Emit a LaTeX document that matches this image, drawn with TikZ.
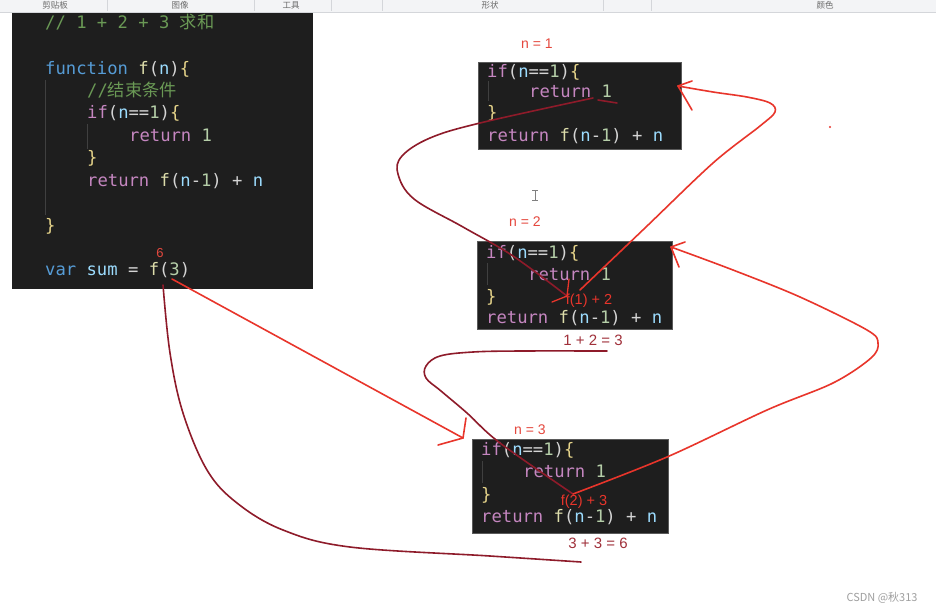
\documentclass[tikz,border=0pt]{standalone}
\usepackage{fontspec}
\setmainfont{Liberation Sans}
\newfontfamily\codefont{DejaVu Sans Mono}
\newfontfamily\cjk{Noto Sans CJK SC}
\definecolor{cbg}{HTML}{1E1E1E}
\definecolor{cborder}{HTML}{5A5A5A}
\definecolor{cguide}{HTML}{404040}
\definecolor{ckwc}{HTML}{569CD6}
\definecolor{cctlc}{HTML}{C586C0}
\definecolor{cfnc}{HTML}{DCDCAA}
\definecolor{cvarc}{HTML}{9CDCFE}
\definecolor{cnumc}{HTML}{B5CEA8}
\definecolor{cpunc}{HTML}{D4D4D4}
\definecolor{ccomc}{HTML}{6A9955}
\definecolor{cbrc}{HTML}{E6D48A}
\definecolor{penred}{HTML}{E8352B}
\definecolor{pendark}{HTML}{8E1B2A}
\definecolor{labred}{HTML}{E5483E}
\definecolor{labdark}{HTML}{A0303A}
\definecolor{toolbg}{HTML}{F3F4F6}
\definecolor{toolline}{HTML}{D4D6DA}
\definecolor{tooltext}{HTML}{6A6A6A}
\newcommand\tkw[1]{\textcolor{ckwc}{#1}}
\newcommand\tctl[1]{\textcolor{cctlc}{#1}}
\newcommand\tfn[1]{\textcolor{cfnc}{#1}}
\newcommand\tvar[1]{\textcolor{cvarc}{#1}}
\newcommand\tnum[1]{\textcolor{cnumc}{#1}}
\newcommand\tcom[1]{\textcolor{ccomc}{#1}}
\newcommand\tbr[1]{\textcolor{cbrc}{#1}}
\tikzset{
  code/.style={anchor=west, inner sep=0pt, text=cpunc,
    font=\codefont\fontsize{17.2}{20}\selectfont, text height=14pt, text depth=3.5pt},
  codebox/.style={fill=cbg, draw=cborder, line width=0.8pt, anchor=north west, inner sep=0pt},
  guide/.style={draw=cguide, line width=0.8pt},
  nlab/.style={text=labred, inner sep=0pt, font=\fontsize{14}{16}\selectfont},
  flab/.style={text=penred, inner sep=0pt, font=\fontsize{14.5}{16}\selectfont},
  rlab/.style={text=labdark, inner sep=0pt, font=\fontsize{15}{17}\selectfont},
  redpen/.style={draw=penred, line width=1.6pt, line cap=round, line join=round},
  darkpen/.style={draw=pendark, line width=1.6pt, line cap=round, line join=round},
  toollab/.style={text=tooltext, inner sep=0pt, font=\cjk\fontsize{8.5}{10}\selectfont},
}
\begin{document}
\begin{tikzpicture}[x=1pt, y=-1pt]
\useasboundingbox (0,0) rectangle (936,614);
\fill[white] (0,0) rectangle (936,614);

% toolbar strip
\fill[toolbg] (0,0) rectangle (936,12);
\node[toollab] (tb1) at (55,5.5) {剪贴板};
\node[toollab] (tb2) at (180,5.5) {图像};
\node[toollab] (tb3) at (291,5.5) {工具};
\node[toollab] (tb4) at (490,5.5) {形状};
\node[toollab] (tb5) at (825,5.5) {颜色};
\foreach \sx in {107,254,331,382,603,651}
  \draw[toolline, line width=0.6pt] (\sx,0) -- (\sx,11);
\draw[toolline, line width=0.8pt] (0,12.5) -- (936,12.5);

% left code panel
\node[codebox, draw=none, minimum width=301pt, minimum height=276pt] (lbox) at (12,13) {};
\draw[guide] (45,80) -- (45,215);
\draw[guide] (87,124) -- (87,149);
\node[code] (l1) at (45,23) {\tcom{// 1 + 2 + 3 {\cjk 求和}}};
\node[code] (l2) at (45,69) {\tkw{function} \tfn{f}(\tvar{n})\tbr{\{}};
\node[code] (l3) at (87,91) {\tcom{//{\cjk 结束条件}}};
\node[code] (l4) at (87,113) {\tctl{if}(\tvar{n}==\tnum{1})\tbr{\{}};
\node[code] (l5) at (129,136) {\tctl{return} \tnum{1}};
\node[code] (l6) at (87,158) {\tbr{\}}};
\node[code] (l7) at (87,181) {\tctl{return} \tfn{f}(\tvar{n}-\tnum{1}) + \tvar{n}};
\node[code] (l8) at (45,226) {\tbr{\}}};
\node[code] (l9) at (45,270) {\tkw{var} \tvar{sum} = \tfn{f}(\tnum{3})};
\node[text=labred, inner sep=0pt, font=\fontsize{13}{15}\selectfont] (six) at (160,253) {6};

% box n = 1
\node[codebox, minimum width=203pt, minimum height=87pt] (b1) at (478,62) {};
\draw[guide] (488,81) -- (488,101);
\node[code] (b1l1) at (487,72) {\tctl{if}(\tvar{n}==\tnum{1})\tbr{\{}};
\node[code] (b1l2) at (529,92) {\tctl{return} \tnum{1}};
\node[code] (b1l3) at (487,113) {\tbr{\}}};
\node[code] (b1l4) at (487,136) {\tctl{return} \tfn{f}(\tvar{n}-\tnum{1}) + \tvar{n}};
\node[nlab] (n1) at (537,44) {n = 1};

% box n = 2
\node[codebox, minimum width=195pt, minimum height=88pt] (b2) at (477,241) {};
\draw[guide] (487,263) -- (487,285);
\node[code] (b2l1) at (486,253) {\tctl{if}(\tvar{n}==\tnum{1})\tbr{\{}};
\node[code] (b2l2) at (528,275) {\tctl{return} \tnum{1}};
\node[code] (b2l3) at (486,297) {\tbr{\}}};
\node[code] (b2l4) at (486,318) {\tctl{return} \tfn{f}(\tvar{n}-\tnum{1}) + \tvar{n}};
\node[nlab] (n2) at (525,222) {n = 2};
\node[flab] (f12) at (589,301) {f(1) + 2};
\node[rlab] (r3) at (593,340) {1 + 2 = 3};

% box n = 3
\node[codebox, minimum width=196pt, minimum height=94pt] (b3) at (472,439) {};
\draw[guide] (482,461) -- (482,483);
\node[code] (b3l1) at (481,450) {\tctl{if}(\tvar{n}==\tnum{1})\tbr{\{}};
\node[code] (b3l2) at (523,472) {\tctl{return} \tnum{1}};
\node[code] (b3l3) at (481,495) {\tbr{\}}};
\node[code] (b3l4) at (481,517) {\tctl{return} \tfn{f}(\tvar{n}-\tnum{1}) + \tvar{n}};
\node[nlab] (n3) at (530,430) {n = 3};
\node[flab] (f23) at (584,502) {f(2) + 3};
\node[rlab] (r6) at (598,543) {3 + 3 = 6};

% named points of the hand-drawn strokes
\coordinate (f3r) at (172,279);
\coordinate (f3d) at (163,285);
\coordinate (t3) at (463,438);
\coordinate (e6) at (581,562);
\coordinate (s1) at (593,98);
\coordinate (t2) at (567,296);
\coordinate (s2) at (580,290);
\coordinate (t1) at (678,86);
\coordinate (s3) at (607,351);
\coordinate (t4) at (573,494);
\coordinate (t5) at (671,247);

% f(3) -> n = 3
\draw[redpen] (f3r) -- (t3);
\draw[redpen] (t3) -- ++(3,-20);
\draw[redpen] (t3) -- ++(-25,7);

% result 6 back to sum
\draw[darkpen] plot[smooth, tension=0.6] coordinates
  {(f3d) (170,353) (183,413) (207,470) (237,503) (283,530) (350,547) (490,556) (e6)};

% return 1 back to n = 2
\draw[darkpen] (598,100) -- (617,103);
\draw[darkpen] plot[smooth, tension=0.6] coordinates
  {(s1) (480,123) (430,138) (402,156) (398,174) (414,199) (463,227) (513,256) (t2)};
\draw[redpen, line width=1.3pt] (t2) -- ++(2,-17);
\draw[redpen, line width=1.3pt] (t2) -- ++(-15,6);

% f(1) -> n = 1
\draw[redpen] plot[smooth, tension=0.55] coordinates
  {(s2) (646,227) (713,163) (760,126) (775,112) (770,103) (747,97) (713,92) (t1)};
\draw[redpen] (t1) -- ++(14,-5);
\draw[redpen] (t1) -- ++(14,24);

% 1 + 2 = 3 back to n = 3
\draw[darkpen] plot[smooth, tension=0.6] coordinates
  {(s3) (520,351) (473,352) (440,356) (426,366) (426,378) (441,391) (467,413) (500,443) (t4)};

% f(2) -> n = 2
\draw[redpen] plot[smooth, tension=0.55] coordinates
  {(t4) (667,457) (767,410) (833,383) (871,358) (878,343) (867,330) (800,297) (733,270) (t5)};
\draw[redpen] (t5) -- ++(14,-5);
\draw[redpen] (t5) -- ++(8,20);

% small marks
\fill[penred] (830,127) circle (1.2pt);
\draw[gray, line width=0.7pt] (532,190) -- (538,190) (535,190) -- (535,200) (532,200) -- (538,200);

% watermark
\node[text=gray!75, inner sep=0pt, font=\cjk\fontsize{11}{13}\selectfont] (wm) at (882,598) {CSDN @秋313};
\end{tikzpicture}
\end{document}
